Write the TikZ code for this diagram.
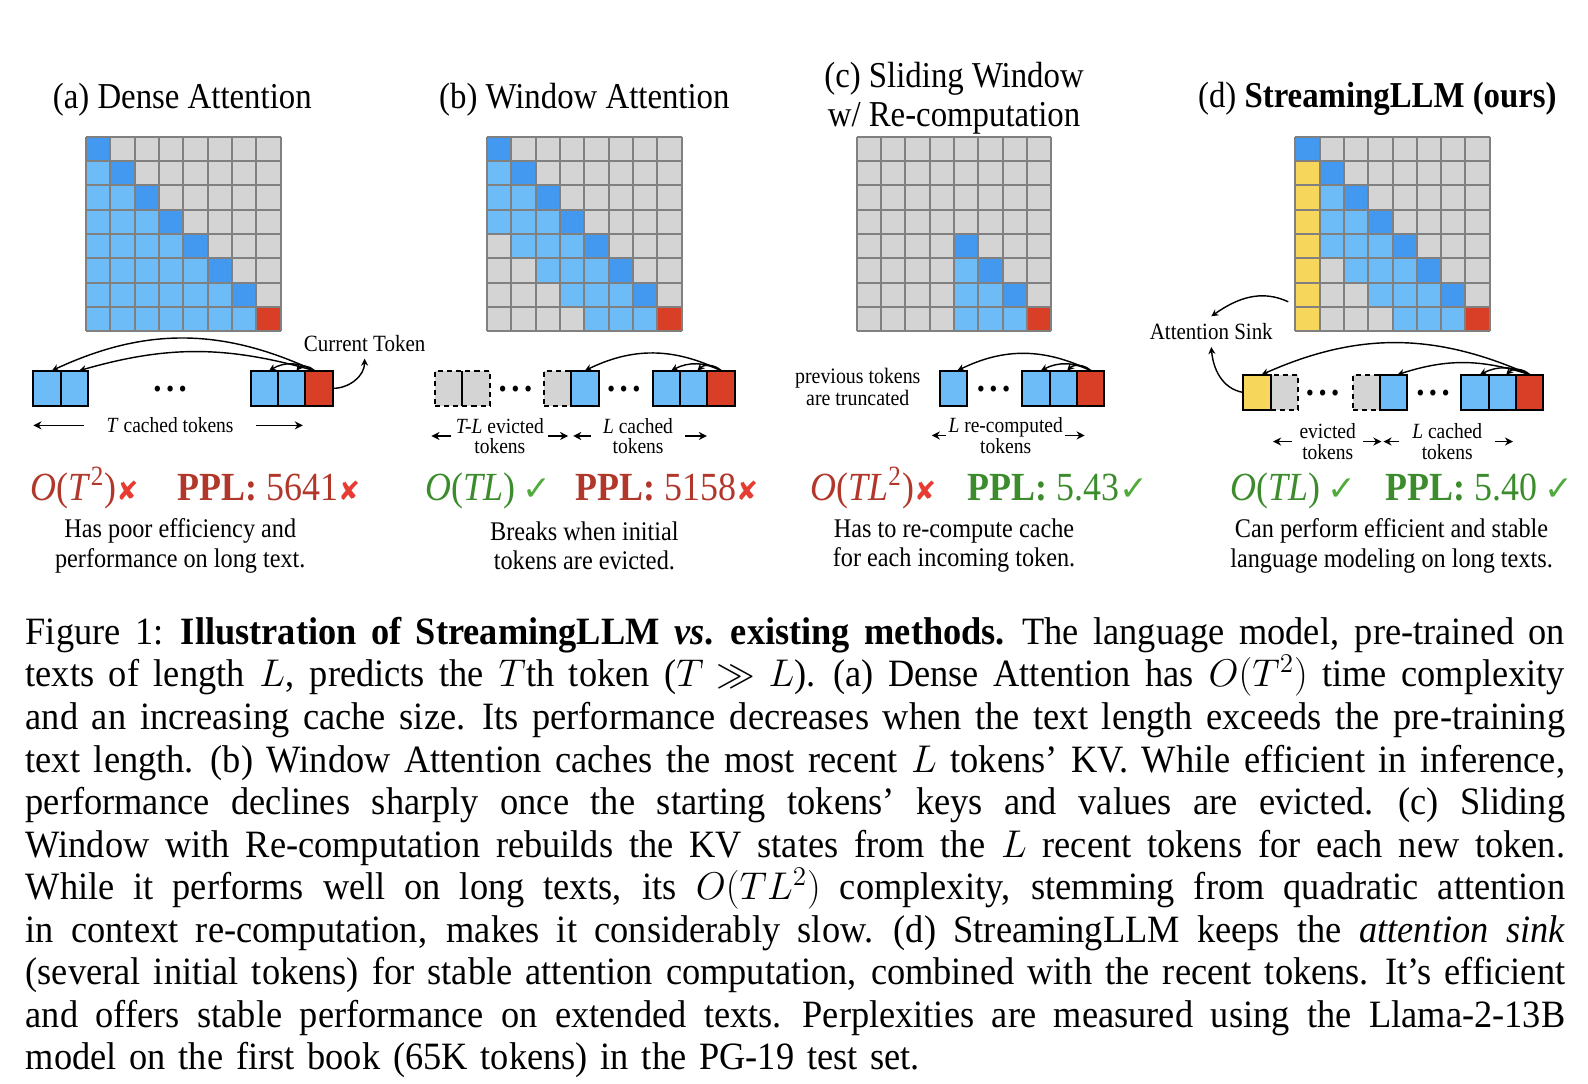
\RequirePackage{fix-cm}
\documentclass[tikz,border=0pt]{standalone}
\usepackage{fontspec}
\setmainfont[FakeStretch=0.9, Ligatures=TeX]{Liberation Serif}
\newfontfamily\capfont[FakeStretch=0.94, Ligatures=TeX]{Liberation Serif}
\newfontfamily\dingfont{DejaVu Sans}
\usetikzlibrary{positioning, arrows.meta}

\definecolor{cgray}{HTML}{D4D4D4}
\definecolor{clight}{HTML}{6DBCF7}
\definecolor{cdiag}{HTML}{4399F0}
\definecolor{cred}{HTML}{D93F27}
\definecolor{cyellow}{HTML}{F7D65C}
\definecolor{cgrid}{HTML}{808080}
\definecolor{cbad}{HTML}{B1372B}
\definecolor{cbadx}{HTML}{E63C32}
\definecolor{cgood}{HTML}{3C8C2D}
\definecolor{cgoodv}{HTML}{50AA3C}

\newcommand{\xmark}{{\dingfont\fontsize{13}{13}\selectfont\color{cbadx}✘}}
\newcommand{\cmark}{{\dingfont\fontsize{17}{17}\selectfont\color{cgoodv}✓}}
\newcommand{\capline}[1]{\makebox[760pt][s]{%
  \spaceskip=0.25em plus 0.6em minus 0.06em\relax
  \xspaceskip=0.33em plus 0.6em minus 0.06em\relax #1}}

% 8x8 attention map: #1 left x, #2 top y, #3 mode (1 dense, 2 window, 3 recompute, 4 sink)
\newcommand{\attnmap}[3]{%
  \foreach \i in {0,...,7}{
    \foreach \j in {0,...,7}{
      \pgfmathtruncatemacro\lowj{#3==3 ? 4 : ((#3==2 || #3==4) ? \i-3 : 0)}
      \def\cellc{cgray}
      \ifnum\j<\lowj\relax\else
        \ifnum\j<\i\relax\def\cellc{clight}\fi
        \ifnum\j=\i\relax\def\cellc{cdiag}\fi
      \fi
      \ifnum#3=4\relax\ifnum\j=0\relax\ifnum\i>0\relax\def\cellc{cyellow}\fi\fi\fi
      \ifnum\i=7\relax\ifnum\j=7\relax\def\cellc{cred}\fi\fi
      \fill[\cellc] ({#1+24*\j},{#2-24*\i}) rectangle ++(24,-24);
    }
  }
  \foreach \k in {0,...,8}{
    \draw[gridln] ({#1+24*\k},#2) -- ++(0,-192);
    \draw[gridln] (#1,{#2-24*\k}) -- ++(192,0);
  }
}

\begin{document}
\begin{tikzpicture}[
    x=0.5pt, y=0.5pt,
    gridln/.style = {draw=cgrid, line width=1pt},
    tok/.style = {draw, line width=1pt, minimum width=13.5pt, minimum height=17.5pt, inner sep=0pt, outer sep=0pt},
    tokb/.style = {tok, fill=clight},
    tokr/.style = {tok, fill=cred},
    toky/.style = {tok, fill=cyellow},
    tokg/.style = {tok, fill=cgray, dash pattern=on 2.5pt off 2pt},
    dots/.style = {font=\fontsize{18}{18}\bfseries, inner sep=0pt},
    att/.style = {-{Stealth[length=3.5pt, width=3.5pt]}, line width=0.7pt},
    dim/.style = {-{Stealth[length=4pt, width=4pt]}, line width=0.8pt},
    title/.style = {font=\fontsize{18}{19}\selectfont, align=center},
    lbl/.style = {font=\fontsize{10.7}{10}\selectfont, align=center, inner sep=0pt},
    note/.style = {font=\fontsize{11.5}{12}\selectfont},
    cplx/.style = {anchor=base west, inner sep=0pt, font=\fontsize{19.7}{20}\selectfont},
    desc/.style = {font=\fontsize{13.3}{14.5}\selectfont, align=center},
    ]
    \useasboundingbox (0,0) rectangle (1568,1070);

    % titles
    \node[title] (ta) at (180,972) {(a) Dense Attention};
    \node[title] (tb) at (577,972) {(b) Window Attention};
    \node[title] (tc) at (942,973) {(c) Sliding Window\\w/ Re-computation};
    \node[title] (td) at (1360,972) {(d) \textbf{StreamingLLM (ours)}};

    % attention maps
    \attnmap{85}{935}{1}
    \attnmap{481}{935}{2}
    \attnmap{846}{935}{3}
    \attnmap{1279}{935}{4}

    % (a) dense
    \node[tokb] (a1) at (46.5,686.5) {};
    \node[tokb, right=0pt of a1] (a2) {};
    \node[dots] (adots) at (168,686) {.\kern2.2pt.\kern2.2pt.};
    \node[tokb] (a3) at (261,686.5) {};
    \node[tokb, right=0pt of a3] (a4) {};
    \node[tokr, right=0pt of a4] (a5) {};
    \draw[att] (a5.105) to[out=155, in=25] (a1.75);
    \draw[att] (a5.105) to[out=164, in=16] (a2.75);
    \draw[att] (a5.105) to[out=150, in=30] (a3.75);
    \draw[att] (a5.105) to[out=130, in=50] (a4.75);
    \node[note] (cur) at (360,731) {Current Token};
    \draw[att] (a5.east) to[out=0, in=-90] (cur.south);
    \node[lbl, minimum width=84.5pt] (acache) at (168,650) {\textit{T} cached tokens};
    \coordinate (aL) at (33,650);
    \coordinate (aR) at (299,650);
    \draw[dim] (acache.west) -- (aL);
    \draw[dim] (acache.east) -- (aR);

    % (b) window
    \node[tokg] (b1) at (443,686.5) {};
    \node[tokg, right=0pt of b1] (b2) {};
    \draw[line width=1pt] (b1.north east) -- (b1.south east);
    \node[dots] (bdots1) at (509,686) {.\kern2.2pt.\kern2.2pt.};
    \node[tokg] (b3) at (550.5,686.5) {};
    \node[tokb, right=0pt of b3] (b4) {};
    \node[dots] (bdots2) at (616,686) {.\kern2.2pt.\kern2.2pt.};
    \node[tokb] (b5) at (658,686.5) {};
    \node[tokb, right=0pt of b5] (b6) {};
    \node[tokr, right=0pt of b6] (b7) {};
    \draw[att] (b7.north) to[out=154, in=26] (b4.north);
    \draw[att] (b7.north) to[out=153, in=27] (b5.75);
    \draw[att] (b7.north) to[out=135, in=45] (b6.78);
    \node[lbl, minimum width=47.5pt] (bevict) at (493.5,639.5) {\textit{T-L} evicted\\tokens};
    \node[lbl, minimum width=46pt] (bcache) at (630,639.5) {\textit{L} cached\\tokens};
    \coordinate (bL1) at (426,639.5);
    \coordinate (bR1) at (561,639.5);
    \coordinate (bL2) at (566,639.5);
    \coordinate (bR2) at (698,639.5);
    \draw[dim] (bevict.west) -- (bL1);
    \draw[dim] (bevict.east) -- (bR1);
    \draw[dim] (bcache.west) -- (bL2);
    \draw[dim] (bcache.east) -- (bR2);

    % (c) sliding window with re-computation
    \node[lbl, font=\fontsize{10.9}{10.5}\selectfont] (trunc) at (847,688) {previous tokens\\are truncated};
    \node[tokb] (c1) at (941.5,686.5) {};
    \node[dots] (cdots) at (981,686) {.\kern2.2pt.\kern2.2pt.};
    \node[tokb] (c2) at (1023,686.5) {};
    \node[tokb, right=0pt of c2] (c3) {};
    \node[tokr, right=0pt of c3] (c4) {};
    \draw[att] (c4.north) to[out=154, in=26] (c1.78);
    \draw[att] (c4.north) to[out=153, in=27] (c2.75);
    \draw[att] (c4.north) to[out=135, in=45] (c3.78);
    \node[lbl, minimum width=58.5pt] (crec) at (993,640) {\textit{L} re-computed\\tokens};
    \coordinate (cL) at (920,640);
    \coordinate (cR) at (1071,640);
    \draw[dim] (crec.west) -- (cL);
    \draw[dim] (crec.east) -- (cR);

    % (d) streamingllm
    \node[toky] (d1) at (1241,682.5) {};
    \node[tokg, right=0pt of d1] (d2) {};
    \draw[line width=1pt] (d1.north east) -- (d1.south east);
    \node[dots] (ddots1) at (1306,682) {.\kern2.2pt.\kern2.2pt.};
    \node[tokg] (d3) at (1349,682.5) {};
    \node[tokb, right=0pt of d3] (d4) {};
    \node[dots] (ddots2) at (1415,682) {.\kern2.2pt.\kern2.2pt.};
    \node[tokb] (d5) at (1456.5,682.5) {};
    \node[tokb, right=0pt of d5] (d6) {};
    \node[tokr, right=0pt of d6] (d7) {};
    \draw[att] (d7.north) to[out=156, in=24] (d1.75);
    \draw[att] (d7.north) to[out=162, in=18] (d4.78);
    \draw[att] (d7.north) to[out=153, in=27] (d5.75);
    \draw[att] (d7.north) to[out=135, in=45] (d6.78);
    \node[note] (sink) at (1196,742.5) {Attention Sink};
    \coordinate (dmat) at (1272,772);
    \draw[att] (d1.west) to[out=170, in=-85] (sink.south);
    \draw[att] (dmat) to[out=155, in=35] (sink.north);
    \node[lbl, minimum width=34.5pt] (devict) at (1311,634) {evicted\\tokens};
    \node[lbl, minimum width=47pt] (dcache) at (1429,634) {\textit{L} cached\\tokens};
    \coordinate (dL1) at (1257,634);
    \coordinate (dR1) at (1364,634);
    \coordinate (dL2) at (1366,634);
    \coordinate (dR2) at (1494,634);
    \draw[dim] (devict.west) -- (dL1);
    \draw[dim] (devict.east) -- (dR1);
    \draw[dim] (dcache.west) -- (dL2);
    \draw[dim] (dcache.east) -- (dR2);

    % complexity and perplexity
    \node[cplx, text=cbad] (acx) at (30,576) {\textit{O}(\textit{T}\textsuperscript{2})\xmark};
    \node[cplx, text=cbad] (appl) at (175,576) {\textbf{PPL:} 5641\xmark};
    \node[cplx, text=cgood] (bcx) at (420,576) {\textit{O}(\textit{TL})\,\cmark};
    \node[cplx, text=cbad] (bppl) at (568,576) {\textbf{PPL:} 5158\xmark};
    \node[cplx, text=cbad] (ccx) at (800,576) {\textit{O}(\textit{TL}\textsuperscript{2})\xmark};
    \node[cplx, text=cgood] (cppl) at (955,576) {\textbf{PPL:} 5.43\cmark};
    \node[cplx, text=cgood] (dcx) at (1215,576) {\textit{O}(\textit{TL})\,\cmark};
    \node[cplx, text=cgood] (dppl) at (1368,576) {\textbf{PPL:} 5.40\,\cmark};

    % descriptions
    \node[desc] (adesc) at (178,531) {Has poor efficiency and\\performance on long text.};
    \node[desc] (bdesc) at (577,531) {Breaks when initial\\tokens are evicted.};
    \node[desc] (cdesc) at (942,531) {Has to re-compute cache\\for each incoming token.};
    \node[desc] (ddesc) at (1374,531) {Can perform efficient and stable\\language modeling on long texts.};

    % caption
    \node[anchor=north west, inner sep=0pt, text width=760pt, align=left,
          font=\capfont\fontsize{19.1}{21}\selectfont] (cap) at (25,461) {%
      \capline{Figure 1: \textbf{Illustration of StreamingLLM \textit{vs}. existing methods.} The language model, pre-trained on}\\
      \capline{texts of length $L$, predicts the $T$th token ($T \gg L$). (a) Dense Attention has $O(T^2)$ time complexity}\\
      \capline{and an increasing cache size. Its performance decreases when the text length exceeds the pre-training}\\
      \capline{text length. (b) Window Attention caches the most recent $L$ tokens' KV. While efficient in inference,}\\
      \capline{performance declines sharply once the starting tokens' keys and values are evicted. (c) Sliding}\\
      \capline{Window with Re-computation rebuilds the KV states from the $L$ recent tokens for each new token.}\\
      \capline{While it performs well on long texts, its $O(TL^2)$ complexity, stemming from quadratic attention}\\
      \capline{in context re-computation, makes it considerably slow. (d) StreamingLLM keeps the \textit{attention sink}}\\
      \capline{(several initial tokens) for stable attention computation, combined with the recent tokens. It's efficient}\\
      \capline{and offers stable performance on extended texts. Perplexities are measured using the Llama-2-13B}\\
      model on the first book (65K tokens) in the PG-19 test set.};
\end{tikzpicture}
\end{document}
